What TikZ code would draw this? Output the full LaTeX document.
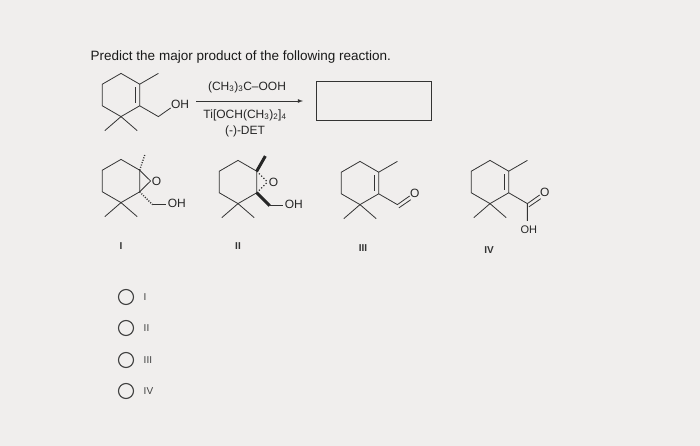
\documentclass[tikz,border=0pt]{standalone}
\usepackage{fontspec}
\setmainfont{Liberation Sans}
\begin{document}
\begin{tikzpicture}[x=1pt,y=-1pt,line width=0.8pt,
  bond/.style={draw=black!80},
  lab/.style={font=\fontsize{12}{13}\selectfont,inner sep=1pt,text=black!85},
  rn/.style={font=\fontsize{10}{11}\selectfont\bfseries,text=black!80},
  opt/.style={circle,draw=black!75,line width=1.1pt,minimum size=15pt,inner sep=0pt},
  optl/.style={font=\fontsize{10}{11}\selectfont,anchor=west,text=black!75}]
\fill[black!10!brown!3!white!95!black] (0,0) rectangle (700,446);
\useasboundingbox (0,0) rectangle (700,446);
\newcommand{\hexring}{%
  \coordinate (T) at (0,-20); \coordinate (UR) at (17.3,-10);
  \coordinate (LR) at (17.3,10); \coordinate (B) at (0,20);
  \coordinate (LL) at (-17.3,10); \coordinate (UL) at (-17.3,-10);
  \draw[bond] (T)--(UR)--(LR)--(B)--(LL)--(UL)--cycle;
  \draw[bond] (B)--++(-15,13) (B)--++(15,13);}
\node[anchor=west,font=\fontsize{13.5}{14}\selectfont,text=black!90] (title) at (87,57) {Predict the major product of the following reaction.};
% starting material
\begin{scope}[shift={(121,95)},scale=1.08]
\hexring
\draw[bond] (13.5,-7) -- (13.5,7);
\draw[bond] (UR)--++(17.3,-10);
\coordinate (c1) at (34.6,20);
\draw[bond] (LR)--(c1)--(46,12);
\node[lab,anchor=west] (oh0) at (45,9) {OH};
\end{scope}
\coordinate (a1) at (196,101); \coordinate (a2) at (303,101);
\draw[bond,-latex] (a1)--(a2);
\node[lab] (r1) at (247,87) {(CH\textsubscript{3})\textsubscript{3}C–OOH};
\node[lab] (r2) at (245,115) {Ti[OCH(CH\textsubscript{3})\textsubscript{2}]\textsubscript{4}};
\node[lab] (r3) at (245,131) {(-)-DET};
\node[draw=black!80,line width=1pt,minimum width=115pt,minimum height=39pt] (box) at (373.5,101.5) {};
% I
\begin{scope}[shift={(121,181)},scale=1.08]
\hexring
\node[lab] (o1) at (33,0) {O};
\draw[bond] (UR)--(o1.west) (LR)--(o1.west);
\draw[bond,dash pattern=on 1pt off 1.5pt,line width=1.4pt] (UR)--++(5,-15);
\draw[bond,dash pattern=on 1pt off 1.5pt,line width=1.4pt] (LR)--++(12,12);
\draw[bond] (29.3,22)--(42,22);
\node[lab,anchor=west] (oh1) at (42,21) {OH};
\end{scope}
% II
\begin{scope}[shift={(238,182)},scale=1.08]
\hexring
\node[lab] (o2) at (33,0) {O};
\draw[bond,dotted,line width=1.2pt] (UR)--(o2.west) (LR)--(o2.west);
\draw[black!85,line width=3pt] (UR)--++(8,-14);
\draw[black!85,line width=3pt] (LR)--++(12,12);
\draw[bond] (29.3,22)--(42,22);
\node[lab,anchor=west] (oh2) at (42,21) {OH};
\end{scope}
% III
\begin{scope}[shift={(360,183)},scale=1.08]
\hexring
\draw[bond] (13.5,-7) -- (13.5,7);
\draw[bond] (UR)--++(17.3,-10);
\coordinate (c3) at (34.6,20);
\draw[bond] (LR)--(c3)--(46,12);
\draw[bond] (36,23)--(47,15.5);
\node[lab,anchor=west] (o3) at (45,10) {O};
\end{scope}
% IV
\begin{scope}[shift={(490,182)},scale=1.08]
\hexring
\draw[bond] (13.5,-7) -- (13.5,7);
\draw[bond] (UR)--++(17.3,-10);
\coordinate (c4) at (34.6,20);
\draw[bond] (LR)--(c4)--(46,12);
\draw[bond] (36,23)--(47,15.5);
\node[lab,anchor=west] (o4) at (45,10) {O};
\draw[bond] (c4)--(34.6,36);
\node[lab,font=\fontsize{11}{12}\selectfont] (oh4) at (36,44) {OH};
\end{scope}
\node[rn] (l1) at (121,246) {I};
\node[rn] (l2) at (238,246) {II};
\node[rn] (l3) at (363,248) {III};
\node[rn] (l4) at (489,250) {IV};
\foreach \y/\t [count=\i] in {297/I,328/II,360/III,391/IV}{
  \node[opt] (c\i) at (126,\y) {};
  \node[optl] (t\i) at (140,\y) {\t};
}
\end{tikzpicture}
\end{document}
